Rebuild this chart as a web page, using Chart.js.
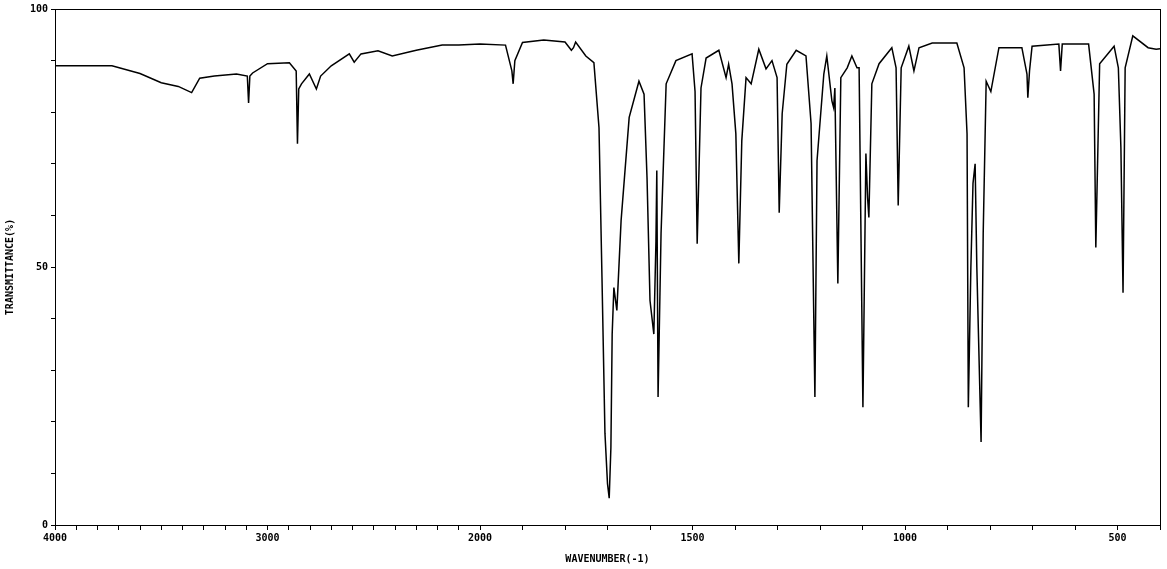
<!DOCTYPE html>
<html><head><meta charset="utf-8">
<script src="https://cdn.jsdelivr.net/npm/chart.js@4"></script>
<style>html,body{margin:0;padding:0;background:#fff}#c{width:1167px;height:569px}</style>
</head><body><div id="c"><canvas id="cv"></canvas></div>
<script>
const wavenumbers = [4000,3732,3600,3500,3420,3357,3319,3250,3146,3095,3089,3083,3070,3000,2897,2865,2859,2853,2840,2803,2770,2750,2700,2615,2592,2560,2480,2413,2300,2178,2100,2000,1940,1925,1922,1918,1900,1850,1800,1785,1780,1775,1751,1732,1720,1713,1706,1700,1696,1692,1689,1685,1678,1668,1649,1626,1614,1607,1600,1591,1586,1584,1581,1574,1562,1539,1501,1494,1489,1480,1468,1438,1421,1415,1407,1398,1391,1384,1374,1362,1344,1327,1313,1301,1296,1289,1278,1256,1233,1221,1212,1207,1191,1184,1172,1168,1165,1158,1151,1136,1125,1113,1108,1099,1092,1088,1085,1078,1061,1031,1021,1016,1009,991,979,967,936,878,861,854,851,845,840,835,831,821,816,809,798,779,725,713,711,707,701,638,634,630,568,555,551,542,508,498,492,487,482,464,428,409,400];
const transmittance = [89,89,87.5,85.7,85,83.8,86.6,87,87.4,87,81.8,87,87.6,89.4,89.6,88,73.9,84.5,85.5,87.4,84.5,87,89,91.3,89.7,91.3,91.9,90.9,92,93,93,93.2,93,88,85.5,90,93.5,94,93.6,92,92.5,93.6,90.9,89.6,77,48,17.8,8,5.2,15,37,46,41.6,59,79,86,83.5,67.3,43.5,37,55,68.7,24.8,56.5,85.5,90,91.3,84,54.5,84.7,90.5,92,86.7,89.3,85.5,75.8,50.7,74.5,86.7,85.5,92.2,88.4,90,86.7,60.5,79.7,89.3,92,90.9,77.8,24.8,70.6,87.4,90.9,82.2,80.9,84.7,46.8,86.7,88.6,90.9,88.6,88.6,22.8,72,63.4,59.6,85.5,89.4,92.5,88.6,61.9,88.6,92.8,88,92.5,93.4,93.4,88.6,75.8,22.8,50,66.2,70,50,16.1,56.5,86,84,92.5,92.5,87.4,82.8,88,92.8,93.2,88,93.2,93.2,83.5,53.8,89.4,92.8,88.6,73.1,45,88.6,94.8,92.5,92.2,92.3];
const xTickLabels = [4000,3000,2000,1500,1000,500];
const yTickLabels = [0,50,100];

// Axis scale: 4000-2000 is drawn at half the density of 2000-400
function pos(w){ return w >= 2000 ? (4000 - w) / 2 : 1000 + (2000 - w); }
function wn(p){ return p <= 1000 ? 4000 - 2 * p : 2000 - (p - 1000); }

const pts = wavenumbers.map((w,i)=>({x:pos(w), y:transmittance[i]}));
const tickWs = [];
for (let w = 4000; w >= 400; w -= 100) tickWs.push(w);

const frame = {id:'frame', afterDraw(c){const a=c.chartArea, g=c.ctx; g.save(); g.strokeStyle='#000'; g.lineWidth=1; g.strokeRect(a.left+0.5,a.top+0.5,a.right-a.left,a.bottom-a.top); g.restore();}};
const F = {family:'DejaVu Sans Mono', size:10, weight:'bold'};

new Chart(document.getElementById('cv'), {
  type:'line',
  data:{datasets:[{data:pts, borderColor:'#000', borderWidth:1.5, pointRadius:0, tension:0, fill:false}]},
  options:{
    responsive:true, maintainAspectRatio:false, animation:false,
    layout:{padding:{top:8,right:7,left:0,bottom:0}},
    plugins:{legend:{display:false}, tooltip:{enabled:false}},
    scales:{
      x:{type:'linear', min:0, max:pos(400),
        afterBuildTicks(s){ s.ticks = tickWs.map(w=>({value:pos(w)})); },
        afterFit(s){ s.height = 44; },
        grid:{drawOnChartArea:false, tickLength:5, color:'#000'},
        border:{color:'#000'},
        ticks:{autoSkip:false, maxRotation:0, color:'#000', font:F, padding:2,
          callback(v){ const w=Math.round(wn(v)); return xTickLabels.includes(w)? String(w):''; }},
        title:{display:true, text:'WAVENUMBER(-1)', color:'#000', font:F, padding:{top:0}}
      },
      y:{min:0, max:100,
        afterBuildTicks(s){ const t=[]; for(let v=0;v<=100;v+=10)t.push({value:v}); s.ticks=t; },
        afterFit(s){ s.width = 55; },
        grid:{drawOnChartArea:false, tickLength:4, color:'#000'},
        border:{color:'#000'},
        ticks:{autoSkip:false, color:'#000', font:F, padding:3,
          callback(v){ return yTickLabels.includes(v)? String(v):''; }},
        title:{display:true, text:'TRANSMITTANCE(%)', color:'#000', font:F, padding:{bottom:4}}
      }
    }
  },
  plugins:[frame]
});
</script></body></html>
